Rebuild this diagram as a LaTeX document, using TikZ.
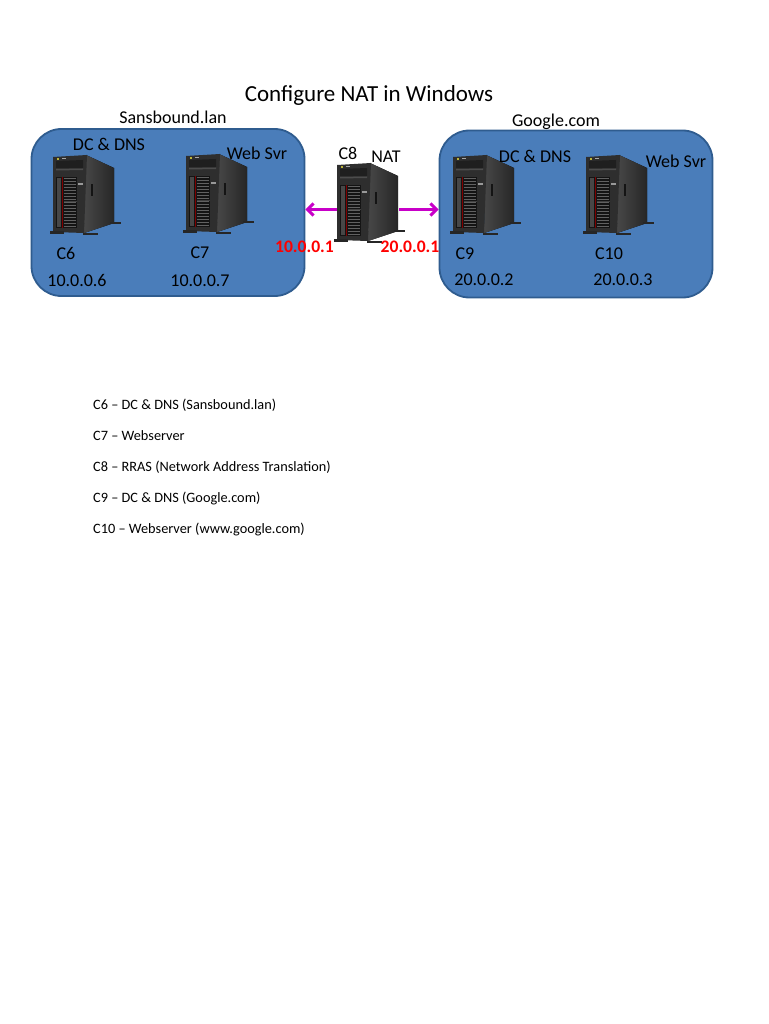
\documentclass[tikz,border=0pt]{standalone}
\usepackage{fontspec}
\setmainfont{Carlito}
\usepackage{xcolor}
\usetikzlibrary{arrows.meta}
\definecolor{lanfill}{HTML}{4A7DBA}
\definecolor{lanline}{HTML}{2F5C8F}
\definecolor{linkpink}{HTML}{C800C8}

\tikzset{
  lanbox/.style={draw=lanline, line width=1.8pt, fill=lanfill, rounded corners=30pt, minimum width=273pt, minimum height=167pt, inner sep=0pt},
  srvbox/.style={minimum width=62pt, minimum height=80pt, inner sep=0pt},
  lbl/.style={font=\fontsize{18}{21}\selectfont, text=black, inner sep=0pt},
  ipaddr/.style={font=\fontsize{17.6}{20}\selectfont\bfseries, text=red, inner sep=0pt},
  legendline/.style={font=\fontsize{14.3}{17}\selectfont, text=black, inner sep=0pt, anchor=west},
  nicarrow/.style={draw=linkpink, line width=3pt, -{Straight Barb[length=6pt,width=12pt]}},
  towerpc/.pic={
    % side, then front
    \fill [left color=black!72, right color=black!85] (33,-2) -- (61,11) -- (61,66) -- (31,76) --cycle;
    \fill [black!82] (0,0) -- (34,-2) -- (31,76) -- (0,75) --cycle;
    \fill [black!88] (3,4) -- (30,3) -- (30,11) -- (3,11) --cycle;
    \fill [black!70] (3,12) -- (30,11.5) -- (30,13) -- (3,13.5) --cycle;
    \fill [yellow!70!black] (4,1.5) rectangle (6,2.8);
    \fill [black!35] (9,1.5) rectangle (13,2.5);
    \fill [black!92] (3,20) rectangle (24,71);
    \fill [black!72] (4,21) rectangle (8,70);
    \fill [red!50!black] (9,20) rectangle (10,71);
    \foreach \yy in {21,24,...,69} { \fill [black!62] (11,\yy) rectangle (23,\yy+1.4); }
    \fill [black!75] (10.5,44) rectangle (23.5,45);
    \fill [black!40] (24.5,26) rectangle (30,28);
    \fill [black!92] (38,27) rectangle (40,39);
    % feet
    \fill [black!85] (-3,74.4) rectangle (11,76.6);
    \fill [black!85] (30,75.6) rectangle (45,78);
    \fill [black!85] (57,65) rectangle (68,67.4);
  }
}

\begin{document}
\begin{tikzpicture}[x=1pt,y=-1pt]
\useasboundingbox [fill=white] (0,0) rectangle (768,1024);

\node [font=\fontsize{23}{28}\selectfont, inner sep=0pt] (title) at (369,95) {Configure NAT in Windows};

\node [lanbox] (lanA) at (168,212.5) {};
\node [lanbox] (lanB) at (576,214) {};
\node [lbl] (nameA) at (173,117.5) {Sansbound.lan};
\node [lbl] (nameB) at (556,121.5) {Google.com};

% servers
\node [srvbox] (srvCsix) at (84,196) {};
\node [srvbox] (srvCseven) at (217,195) {};
\node [srvbox] (srvCeight) at (368,209.5) {};
\node [srvbox] (srvCnine) at (484,196) {};
\node [srvbox] (srvCten) at (617,196) {};
\pic at (53,157) {towerpc};
\pic at (186,156) {towerpc};
\pic at (337,165) {towerpc};
\pic at (453,157) {towerpc};
\pic at (586,157) {towerpc};

\draw [nicarrow] (srvCeight.west) -- (lanA.east |- srvCeight.west);
\draw [nicarrow] (srvCeight.east) -- (lanB.west |- srvCeight.east);

\node [lbl] (roleCsix) at (109,144.5) {DC \& DNS};
\node [lbl] (roleCseven) at (257,153) {Web Svr};
\node [lbl] (hostCeight) at (348,153) {C8};
\node [lbl] (roleCeight) at (386,156.5) {NAT};
\node [lbl] (roleCnine) at (535,156.5) {DC \& DNS};
\node [lbl] (roleCten) at (676,161) {Web Svr};

\node [lbl] (hostCsix) at (66,253.5) {C6};
\node [lbl] (hostCseven) at (200,252.5) {C7};
\node [lbl] (hostCnine) at (465,253.5) {C9};
\node [lbl] (hostCten) at (609,253.5) {C10};
\node [lbl] (ipCsix) at (77,280.5) {10.0.0.6};
\node [lbl] (ipCseven) at (200,281) {10.0.0.7};
\node [lbl] (ipCnine) at (484,280) {20.0.0.2};
\node [lbl] (ipCten) at (623,280) {20.0.0.3};

\node [ipaddr] (gwA) at (304.5,247) {10.0.0.1};
\node [ipaddr] (gwB) at (410,247) {20.0.0.1};

% legend
\node [legendline] (legA) at (93,405.5) {C6 – DC \& DNS (Sansbound.lan)};
\node [legendline] (legB) at (93,436) {C7 – Webserver};
\node [legendline] (legC) at (93,467.5) {C8 – RRAS (Network Address Translation)};
\node [legendline] (legD) at (93,498.5) {C9 – DC \& DNS (Google.com)};
\node [legendline] (legE) at (93,529.5) {C10 – Webserver (www.google.com)};
\end{tikzpicture}
\end{document}
